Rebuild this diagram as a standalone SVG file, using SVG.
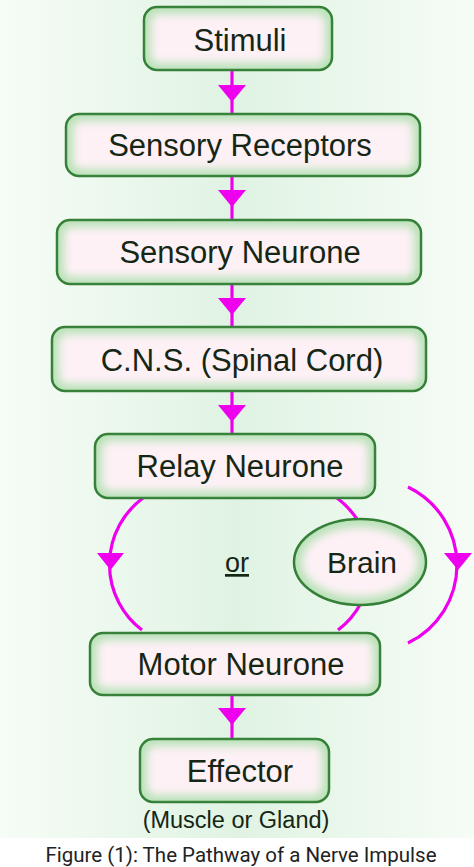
<svg xmlns="http://www.w3.org/2000/svg" width="474" height="867" viewBox="0 0 474 867">
<defs>
<linearGradient id="bg" x1="0" y1="0" x2="1" y2="0">
<stop offset="0" stop-color="#f6fcf6"/>
<stop offset="0.3" stop-color="#e9f7eb"/>
<stop offset="0.5" stop-color="#e0f3e3"/>
<stop offset="0.7" stop-color="#e9f7eb"/>
<stop offset="1" stop-color="#f6fcf6"/>
</linearGradient>
<filter id="glow" x="-20%" y="-40%" width="140%" height="180%">
<feGaussianBlur stdDeviation="4"/>
</filter>
</defs>
<style>
.frame{fill:#b9e2b8;stroke:#2f7d32;stroke-width:2.5}
.inner{fill:#fdf1f5;filter:url(#glow)}
.lbl{font-family:"Liberation Sans",Arial,sans-serif;font-size:31px;fill:#152615;text-anchor:middle}
.conn{stroke:#ee00ee;stroke-width:3.2;fill:none}
.head{fill:#ee00ee}
</style>
<rect x="0" y="0" width="474" height="838" fill="url(#bg)"/>
<rect x="0" y="838" width="474" height="29" fill="#ffffff"/>

<g id="connectors">
<line class="conn" x1="232" y1="70" x2="232" y2="114"/>
<path class="head" d="M218,85 L246,85 L232,102 Z"/>
<line class="conn" x1="232" y1="176" x2="232" y2="220"/>
<path class="head" d="M218,190 L246,190 L232,207 Z"/>
<line class="conn" x1="232" y1="284" x2="232" y2="327"/>
<path class="head" d="M218,298 L246,298 L232,315 Z"/>
<line class="conn" x1="232" y1="391" x2="232" y2="434"/>
<path class="head" d="M218,405 L246,405 L232,422 Z"/>
<line class="conn" x1="232" y1="695" x2="232" y2="739"/>
<path class="head" d="M218,708 L246,708 L232,725 Z"/>
<path class="conn" d="M143,498 A82.5,82.5 0 0 0 142,630"/>
<path class="head" d="M97,553 L124,553 L110.5,570 Z"/>
<path class="conn" d="M337,498 A82.5,82.5 0 0 1 338,630"/>
<path class="conn" d="M408,487 A86.6,86.6 0 0 1 408,643"/>
<path class="head" d="M444,553 L472,553 L458,570 Z"/>
</g>

<g id="stimuli">
<rect class="frame" x="144" y="7" width="188" height="63" rx="13"/>
<rect class="inner" x="151" y="14" width="174" height="49" rx="8"/>
<text class="lbl" x="240" y="51">Stimuli</text>
</g>
<g id="sensory-receptors">
<rect class="frame" x="66" y="114" width="354" height="62" rx="13"/>
<rect class="inner" x="73" y="121" width="340" height="48" rx="8"/>
<text class="lbl" x="240" y="156">Sensory Receptors</text>
</g>
<g id="sensory-neurone">
<rect class="frame" x="57" y="220" width="364" height="64" rx="13"/>
<rect class="inner" x="64" y="227" width="350" height="50" rx="8"/>
<text class="lbl" x="240" y="263">Sensory Neurone</text>
</g>
<g id="cns">
<rect class="frame" x="52" y="327" width="374" height="64" rx="13"/>
<rect class="inner" x="59" y="334" width="360" height="50" rx="8"/>
<text class="lbl" x="242" y="371">C.N.S. (Spinal Cord)</text>
</g>
<g id="relay-neurone">
<rect class="frame" x="95" y="434" width="280" height="64" rx="13"/>
<rect class="inner" x="102" y="441" width="266" height="50" rx="8"/>
<text class="lbl" x="240" y="477">Relay Neurone</text>
</g>
<g id="or">
<text class="lbl" x="237" y="572" style="font-size:27px;text-decoration:underline">or</text>
</g>
<g id="brain">
<ellipse class="frame" cx="360" cy="562" rx="66" ry="43"/>
<ellipse class="inner" cx="360" cy="562" rx="58" ry="35"/>
<text class="lbl" x="362" y="573" style="font-size:30px">Brain</text>
</g>
<g id="motor-neurone">
<rect class="frame" x="90" y="633" width="290" height="62" rx="13"/>
<rect class="inner" x="97" y="640" width="276" height="48" rx="8"/>
<text class="lbl" x="241" y="675">Motor Neurone</text>
</g>
<g id="effector">
<rect class="frame" x="140" y="739" width="189" height="63" rx="13"/>
<rect class="inner" x="147" y="746" width="175" height="49" rx="8"/>
<text class="lbl" x="240" y="782">Effector</text>
<text class="lbl" x="236" y="828" style="font-size:23.5px">(Muscle or Gland)</text>
</g>
<text x="241" y="862" font-family="Roboto, sans-serif" font-size="20.5" fill="#222222" text-anchor="middle">Figure (1): The Pathway of a Nerve Impulse</text>
</svg>
